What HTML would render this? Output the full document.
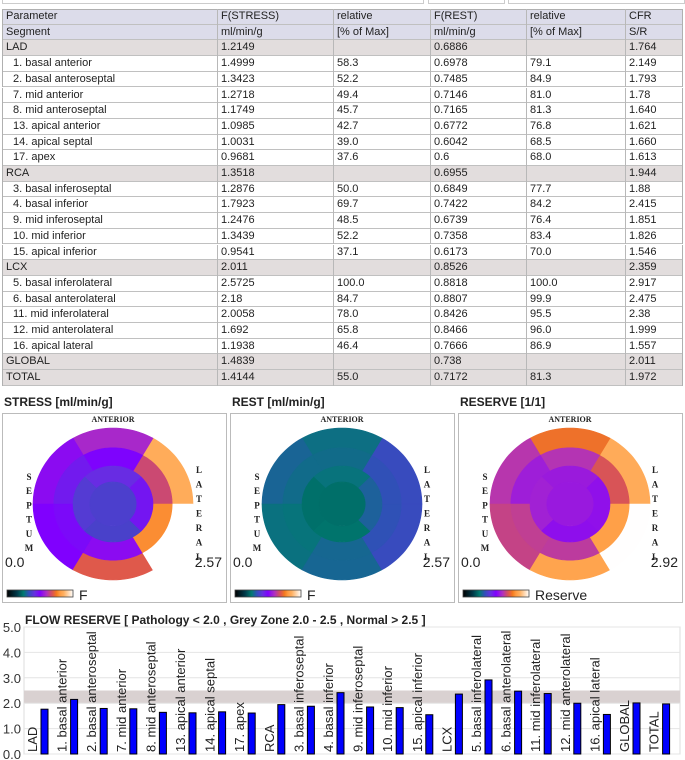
<!DOCTYPE html>
<html><head><meta charset="utf-8">
<style>
body{margin:0;width:685px;height:760px;background:#fff;position:relative;overflow:hidden;font-family:"Liberation Sans",sans-serif;color:#222}
.cell{position:absolute;font-size:11px;line-height:15px;white-space:nowrap;padding-left:3px;box-sizing:border-box;border-left:1px solid #b8b8b8;height:15px}
.row{position:absolute;left:2px;width:681px;height:15.1px;border-bottom:1px solid #c0c0c0;box-sizing:border-box}
.ptitle{position:absolute;font-size:12px;font-weight:bold;top:395px}
</style></head><body>
<div style="position:absolute;left:2px;top:0;width:420px;height:3px;border:1px solid #ccc;border-top:none"></div>
<div style="position:absolute;left:428px;top:0;width:75px;height:3px;border:1px solid #ccc;border-top:none"></div>
<div style="position:absolute;left:508px;top:0;width:175px;height:3px;border:1px solid #ccc;border-top:none"></div>
<div id="tbl" style="position:absolute;left:0;top:0;width:685px;height:390px"></div>

<div class="ptitle" style="left:4px">STRESS [ml/min/g]</div>
<div class="ptitle" style="left:232px">REST [ml/min/g]</div>
<div class="ptitle" style="left:460px">RESERVE [1/1]</div>
<svg id="polar" width="685" height="610" style="position:absolute;left:0;top:0"></svg>

<svg id="bars" width="685" height="150" style="position:absolute;left:0;top:610px"></svg>

<script>
// ---------- table data ----------
const rowNames=["Parameter","Segment","LAD","1. basal anterior","2. basal anteroseptal","7. mid anterior","8. mid anteroseptal","13. apical anterior","14. apical septal","17. apex","RCA","3. basal inferoseptal","4. basal inferior","9. mid inferoseptal","10. mid inferior","15. apical inferior","LCX","5. basal inferolateral","6. basal anterolateral","11. mid inferolateral","12. mid anterolateral","16. apical lateral","GLOBAL","TOTAL"];
const colStress=["F(STRESS)","ml/min/g","1.2149","1.4999","1.3423","1.2718","1.1749","1.0985","1.0031","0.9681","1.3518","1.2876","1.7923","1.2476","1.3439","0.9541","2.011","2.5725","2.18","2.0058","1.692","1.1938","1.4839","1.4144"];
const colRelS=["relative","[% of Max]","","58.3","52.2","49.4","45.7","42.7","39.0","37.6","","50.0","69.7","48.5","52.2","37.1","","100.0","84.7","78.0","65.8","46.4","","55.0"];
const colRest=["F(REST)","ml/min/g","0.6886","0.6978","0.7485","0.7146","0.7165","0.6772","0.6042","0.6","0.6955","0.6849","0.7422","0.6739","0.7358","0.6173","0.8526","0.8818","0.8807","0.8426","0.8466","0.7666","0.738","0.7172"];
const colRelR=["relative","[% of Max]","","79.1","84.9","81.0","81.3","76.8","68.5","68.0","","77.7","84.2","76.4","83.4","70.0","","100.0","99.9","95.5","96.0","86.9","","81.3"];
const colCFR=["CFR","S/R","1.764","2.149","1.793","1.78","1.640","1.621","1.660","1.613","1.944","1.88","2.415","1.851","1.826","1.546","2.359","2.917","2.475","2.38","1.999","1.557","2.011","1.972"];
const groups=["LAD","RCA","LCX","GLOBAL","TOTAL"];
const tbl=document.getElementById('tbl');
const colX=[2,217,333,430,526,625,683];
const cols=[rowNames,colStress,colRelS,colRest,colRelR,colCFR];
for(let i=0;i<rowNames.length;i++){
  const r=document.createElement('div');
  r.className='row';
  
  
  const top=9+i*15.7;
  r.style.top=top+'px';r.style.height='15.7px';
  let bg='#fff';
  const isGroup=groups.includes(rowNames[i]);
  if(i<2) bg='#dcdcea';
  else if(isGroup) bg='#e2dddd';
  r.style.background=bg;
  if(i==0) r.style.borderTop='1px solid #b0b0b0';
  tbl.appendChild(r);
  for(let c=0;c<6;c++){
    const d=document.createElement('div');
    d.className='cell';
    
    
    d.style.left=colX[c]+'px';d.style.top=top+'px';d.style.width=(colX[c+1]-colX[c])+'px';
    d.style.lineHeight='15.7px';d.style.height='15.7px';
    if(c==0){d.style.borderLeft='1px solid #b0b0b0'; if(i>=2&&!isGroup) d.style.paddingLeft='10px';}
    if(c==5) d.style.borderRight='1px solid #b0b0b0';
    d.textContent=cols[c][i];
    tbl.appendChild(d);
  }
}

// ---------- polar maps ----------
const NS='http://www.w3.org/2000/svg';
const svg=document.getElementById('polar');
const stops=[[0,'#000000'],[0.15,'#003848'],[0.25,'#007a70'],[0.33,'#3050b8'],[0.42,'#6630e0'],[0.5,'#8000ff'],[0.6,'#b030c0'],[0.66,'#cc4a70'],[0.70,'#e05a48'],[0.75,'#f47a1e'],[0.8,'#ff9a40'],[0.86,'#ffb060'],[1,'#ffffff']];
function hex(h){return [1,3,5].map(k=>parseInt(h.substr(k,2),16));}
function cmap(t){t=Math.max(0,Math.min(1,t));for(let i=1;i<stops.length;i++){if(t<=stops[i][0]){const a=stops[i-1],b=stops[i];const f=(t-a[0])/(b[0]-a[0]);const ca=hex(a[1]),cb=hex(b[1]);return 'rgb('+ca.map((v,k)=>Math.round(v+(cb[k]-v)*f)).join(',')+')';}}return '#fff';}
// segment order: basal [antlat, ant, antsep, infsep, inf, inflat], mid same, apical [ant, sep, inf, lat], apex
const stressBasal=[2.18,1.4999,1.3423,1.2876,1.7923,2.5725];
const stressMid=[1.692,1.2718,1.1749,1.2476,1.3439,2.0058];
const stressApical=[1.0985,1.0031,0.9541,1.1938];
const stressApex=[0.9681];
const restBasal=[0.8807,0.6978,0.7485,0.6849,0.7422,0.8818];
const restMid=[0.8466,0.7146,0.7165,0.6739,0.7358,0.8426];
const restApical=[0.6772,0.6042,0.6173,0.7666];
const restApex=[0.6];
const resBasal=[2.475,2.149,1.793,1.88,2.415,2.917];
const resMid=[1.999,1.78,1.640,1.851,1.826,2.38];
const resApical=[1.621,1.660,1.546,1.557];
const resApex=[1.613];
const scaleMax=[2.57,2.57,2.92];
const panels=[{x:2,cx:113,d:[stressBasal,stressMid,stressApical,stressApex],n:'stress'},{x:230,cx:342,d:[restBasal,restMid,restApical,restApex],n:'rest'},{x:458,cx:570,d:[resBasal,resMid,resApical,resApex],n:'reserve'}];
const cy=504,RX=80,RY=76;const radii=[1,0.74,0.5,0.29];
function pt(cx,f,a){const r=a*Math.PI/180;return [cx+RX*f*Math.cos(r),cy-RY*f*Math.sin(r)];}
function arc(cx,r0,r1,a0,a1){const p=[];const n=24;for(let k=0;k<=n;k++)p.push(pt(cx,r1,a0+(a1-a0)*k/n));for(let k=n;k>=0;k--)p.push(pt(cx,r0,a0+(a1-a0)*k/n));return 'M'+p.map(q=>q[0].toFixed(1)+','+q[1].toFixed(1)).join('L')+'Z';}
function el(tag,attrs){const e=document.createElementNS(NS,tag);for(const k in attrs)e.setAttribute(k,attrs[k]);svg.appendChild(e);return e;}
panels.forEach((P,pi)=>{
  const box=el('rect',{x:P.x+0.5,y:413.5,width:224,height:189,fill:'none',stroke:'#bbb'});
  
  
  const mx=scaleMax[pi];
  P.d[0].forEach((v,i)=>{const col=cmap(v/mx);const s=el('path',{d:arc(P.cx,radii[1],radii[0],i*60,(i+1)*60),fill:col,stroke:col,'stroke-width':'0.6'});
    
    });
  P.d[1].forEach((v,i)=>{const col=cmap(v/mx);const s=el('path',{d:arc(P.cx,radii[2],radii[1],i*60,(i+1)*60),fill:col,stroke:col,'stroke-width':'0.6'});
    
    });
  P.d[2].forEach((v,i)=>{const col=cmap(v/mx);const s=el('path',{d:arc(P.cx,radii[3],radii[2],45+i*90,135+i*90),fill:col,stroke:col,'stroke-width':'0.6'});
    
    });
  const apc=cmap(P.d[3][0]/mx);
  const ap=el('ellipse',{cx:P.cx,cy:cy,rx:RX*radii[3],ry:RY*radii[3],fill:apc,stroke:apc,'stroke-width':'0.6'});
  
  
  const t=el('text',{x:P.cx,y:422,'font-size':'8','font-weight':'bold','font-family':'Liberation Serif,serif','text-anchor':'middle',fill:'#222'});
  t.textContent='ANTERIOR';
  
  
  'SEPTUM'.split('').forEach((c,k)=>{const s=el('text',{x:P.x+27,y:480+k*14.2,'font-size':'9','font-weight':'bold','font-family':'Liberation Serif,serif','text-anchor':'middle',fill:'#222'});s.textContent=c;
    
    });
  'LATERAL'.split('').forEach((c,k)=>{const s=el('text',{x:P.x+197,y:473+k*14.5,'font-size':'9','font-weight':'bold','font-family':'Liberation Serif,serif','text-anchor':'middle',fill:'#222'});s.textContent=c;
    
    });
  const l0=el('text',{x:P.x+3,y:567,'font-size':'14',fill:'#222'});l0.textContent='0.0';
  
  
  const l1=el('text',{x:P.x+220,y:567,'font-size':'14','text-anchor':'end',fill:'#222'});l1.textContent=mx.toFixed(2);
  
  
  const gid='g'+pi;
  const g=el('linearGradient',{id:gid});
  stops.forEach(s=>{const st=document.createElementNS(NS,'stop');st.setAttribute('offset',s[0]);st.setAttribute('stop-color',s[1]);g.appendChild(st);});
  const cb=el('rect',{x:P.x+5,y:590,width:66,height:7,fill:'url(#'+gid+')',stroke:'#444','stroke-width':'0.8'});
  
  
  const cl=el('text',{x:P.x+77,y:600,'font-size':'14',fill:'#222'});cl.textContent=pi==2?'Reserve':'F';
  
  
});

// ---------- bar chart ----------
const barCats=["LAD","1. basal anterior","2. basal anteroseptal","7. mid anterior","8. mid anteroseptal","13. apical anterior","14. apical septal","17. apex","RCA","3. basal inferoseptal","4. basal inferior","9. mid inferoseptal","10. mid inferior","15. apical inferior","LCX","5. basal inferolateral","6. basal anterolateral","11. mid inferolateral","12. mid anterolateral","16. apical lateral","GLOBAL","TOTAL"];
const barVals=[1.764,2.149,1.793,1.78,1.640,1.621,1.660,1.613,1.944,1.88,2.415,1.851,1.826,1.546,2.359,2.917,2.475,2.38,1.999,1.557,2.011,1.972];
const yTicks=[0,1,2,3,4,5];
const greyZone=[2.0,2.5];
const B=document.getElementById('bars');
function bel(tag,attrs){const e=document.createElementNS(NS,tag);for(const k in attrs)e.setAttribute(k,attrs[k]);B.appendChild(e);return e;}
const y0=144,pxu=25.4,xL=24,xR=680;
const yS=v=>y0-v*pxu;
const xS=i=>44+i*29.6;
const ttl=bel('text',{x:25,y:14,'font-size':'12','font-weight':'bold',fill:'#222'});
ttl.textContent='FLOW RESERVE [ Pathology < 2.0 , Grey Zone 2.0 - 2.5 , Normal > 2.5 ]';


const bg=bel('rect',{x:xL,y:yS(5),width:xR-xL,height:5*pxu,fill:'#fff',stroke:'#ddd'});


const gz=bel('rect',{x:xL,y:yS(greyZone[1]),width:xR-xL,height:(greyZone[1]-greyZone[0])*pxu,fill:'#d9d1d1'});


yTicks.forEach(t=>{
  const gl=bel('line',{x1:xL,x2:xR,y1:yS(t),y2:yS(t),stroke:'#e4e4e4'});
  
  
  const tx=bel('text',{x:21,y:yS(t)+5,'font-size':'13','text-anchor':'end',fill:'#333'});
  tx.textContent=t.toFixed(1);
  
  
});
barCats.forEach((c,i)=>{
  const x=xS(i);
  const r=bel('rect',{x:x-3,y:yS(barVals[i]),width:7,height:barVals[i]*pxu,fill:'#0000ff',stroke:'#000','stroke-width':'1'});
  
  
  const tx=bel('text',{x:0,y:0,'font-size':'13',fill:'#222',transform:'translate('+(x-7)+','+(y0-2)+') rotate(-90)'});
  tx.textContent=c;
  
  
});
</script>
</body></html>
